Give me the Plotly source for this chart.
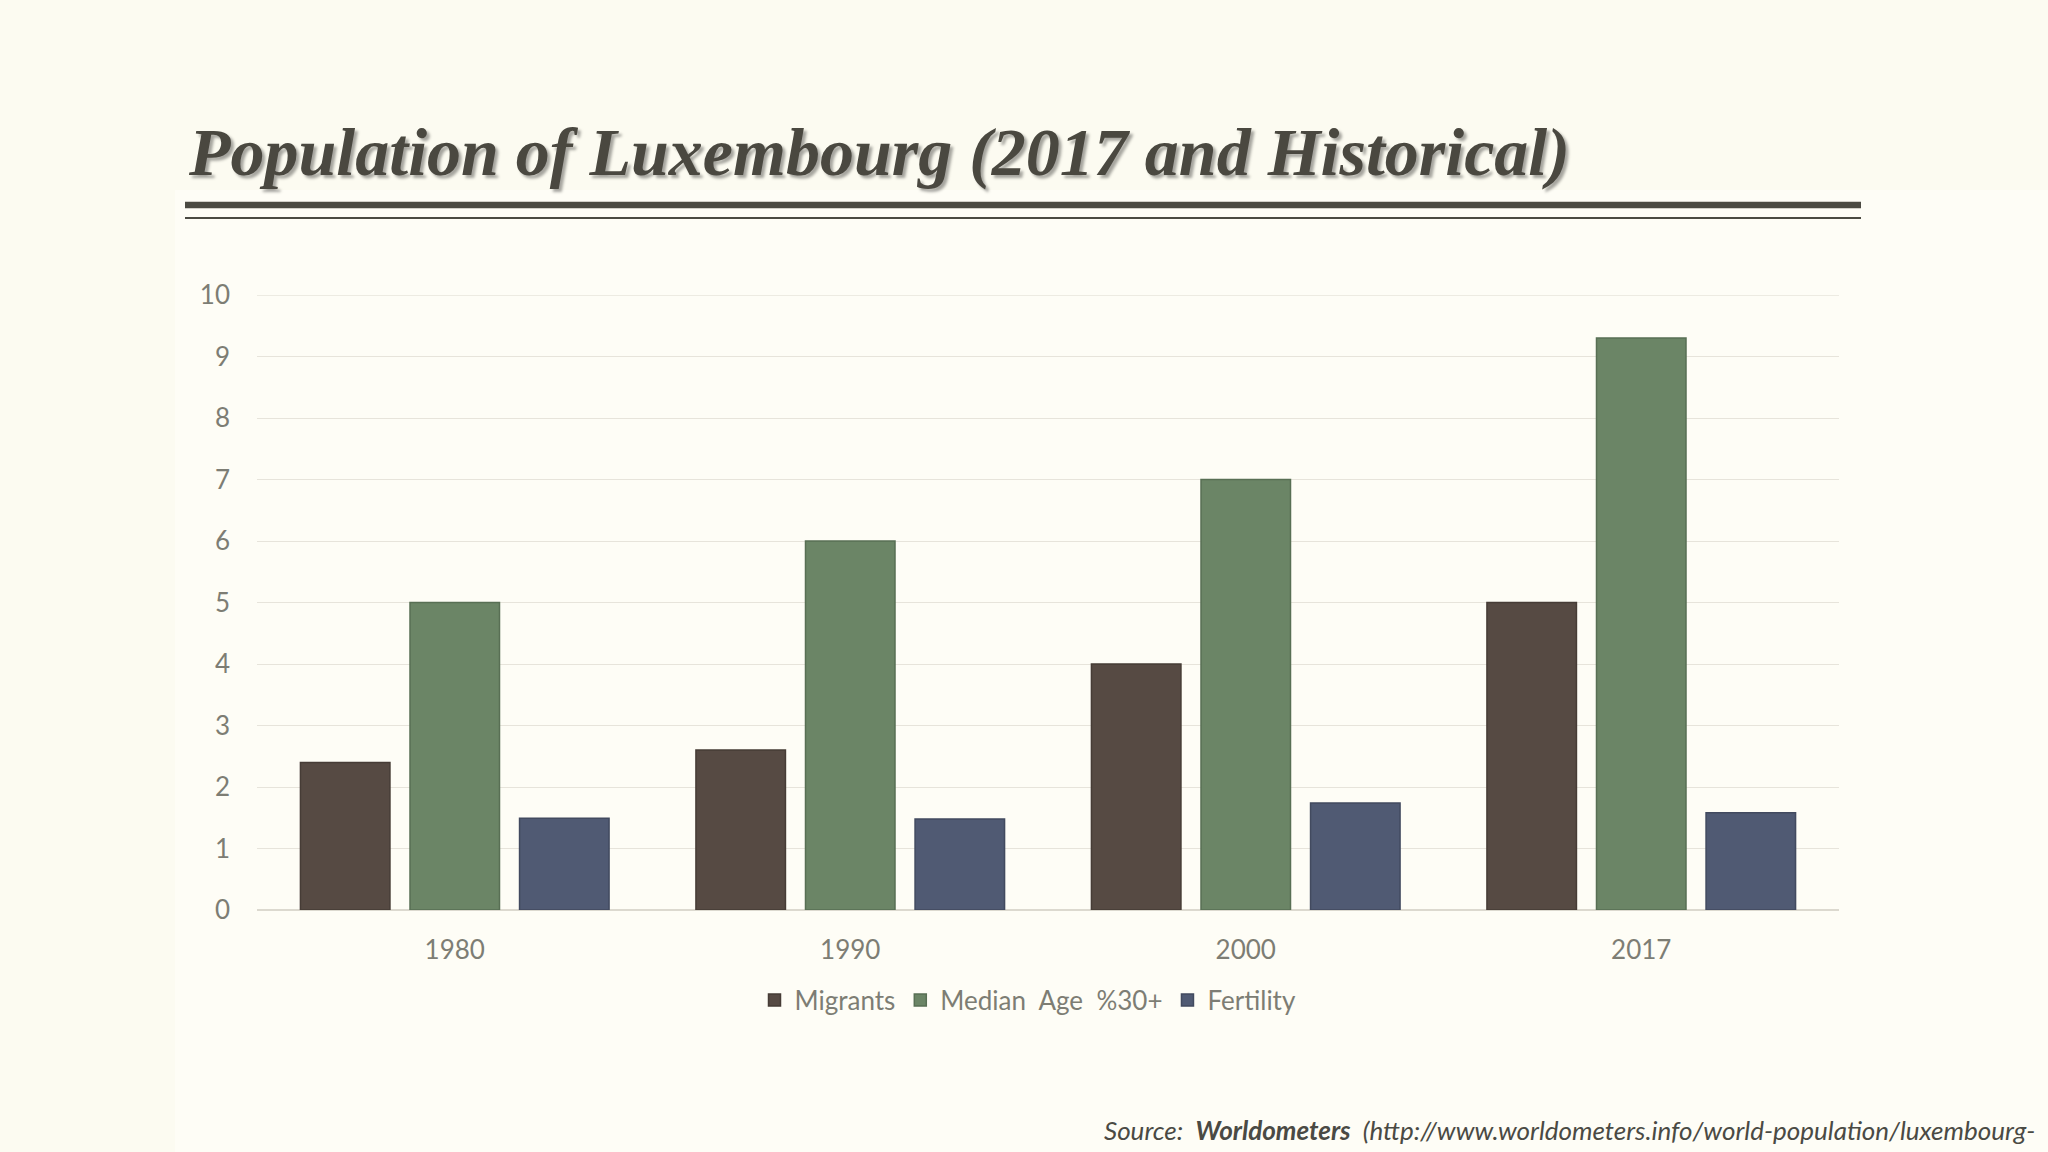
import plotly.graph_objects as go

years = ["1980", "1990", "2000", "2017"]
migrants = [2.4, 2.6, 4.0, 5.0]
median_age = [5.0, 6.0, 7.0, 9.3]
fertility = [1.49, 1.48, 1.74, 1.58]
y_ticks = list(range(0, 11))

W, H = 2048, 1152
L, R, T, B = 257, 2048 - 1839, 295, 1152 - 910
PW, PH = 1839 - 257, 910 - 295

def px(x):
    return (x - L) / PW

def py(y):
    return (910 - y) / PH

fig = go.Figure()
fig.add_trace(go.Bar(name="Migrants", x=years, y=migrants,
                     marker=dict(color="#564A43", line=dict(color="#463C36", width=1.5))))
fig.add_trace(go.Bar(name="Median  Age  %30+", x=years, y=median_age,
                     marker=dict(color="#6B8566", line=dict(color="#586F54", width=1.5))))
fig.add_trace(go.Bar(name="Fertility", x=years, y=fertility,
                     marker=dict(color="#505A73", line=dict(color="#424A5F", width=1.5))))

grey = "#7D7D74"
fig.update_layout(
    width=W, height=H,
    margin=dict(l=L, r=R, t=T, b=B, pad=0),
    paper_bgcolor="#FCFBF1",
    plot_bgcolor="rgba(0,0,0,0)",
    barmode="group",
    bargap=0.169,
    bargroupgap=0.183,
    font=dict(family="Lato, sans-serif", color=grey, size=26),
    showlegend=True,
    legend=dict(orientation="h", x=px(1028), xanchor="center", y=py(1000), yanchor="middle",
                font=dict(size=26, color=grey), bgcolor="rgba(0,0,0,0)", traceorder="normal",
                itemwidth=30),
    xaxis=dict(showgrid=False, showline=False, ticks="", tickfont=dict(size=26, color=grey),
               ticklabelstandoff=22, fixedrange=True),
    yaxis=dict(range=[0, 10], tickvals=y_ticks, ticktext=[str(v) for v in y_ticks],
               showgrid=True, gridcolor="#E7E4DB", gridwidth=1.3,
               zeroline=True, zerolinecolor="#DCD9CF", zerolinewidth=1.5,
               showline=False, ticks="", tickfont=dict(size=26, color=grey),
               ticklabelstandoff=26, fixedrange=True),
    shapes=[
        dict(type="rect", xref="paper", yref="paper", x0=px(175), x1=px(2048), y0=py(190), y1=py(1152),
             fillcolor="#FEFDF6", line=dict(width=0), layer="below"),
        dict(type="line", xref="paper", yref="y", x0=0, x1=1, y0=10, y1=10,
             line=dict(color="#E7E4DB", width=1.3), layer="below"),
        dict(type="line", xref="paper", yref="paper", x0=px(185), x1=px(1861), y0=py(205), y1=py(205),
             line=dict(color="#4B4A42", width=6.5)),
        dict(type="line", xref="paper", yref="paper", x0=px(185), x1=px(1861), y0=py(218), y1=py(218),
             line=dict(color="#4B4A42", width=2)),
    ],
    annotations=[
        dict(text="<b><i>Population of Luxembourg (2017 and Historical)</i></b>",
             xref="paper", yref="paper", x=px(186), y=py(152), xanchor="left", yanchor="middle",
             showarrow=False,
             font=dict(family="Liberation Serif, serif", size=68, color="#4A4840",
                       shadow="3px 3px 3px rgba(0,0,0,0.35)")),
        dict(text="<i>Source:  <b>Worldometers</b>  (http://www.worldometers.info/world-population/luxembourg-</i>",
             xref="paper", yref="paper", x=px(2037), y=py(1130), xanchor="right", yanchor="middle",
             showarrow=False, font=dict(family="Lato, sans-serif", size=26, color="#4A4A44")),
    ],
)

fig.write_html("out.html")
